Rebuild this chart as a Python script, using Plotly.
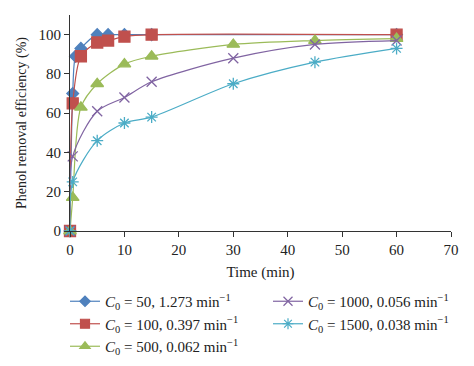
import plotly.graph_objects as go

# Data
t_50 = [0, 0.5, 1, 2, 5, 7, 10, 15, 60]
e_50 = [0, 70, 89, 93, 100, 100, 100, 100, 100]
t_100 = [0, 0.5, 2, 5, 7, 10, 15, 60]
e_100 = [0, 65, 89, 96, 97, 99, 100, 100]
t_500 = [0, 0.5, 2, 5, 10, 15, 30, 45, 60]
e_500 = [0, 17, 63, 75, 85, 89, 95, 97, 98]
t_1000 = [0, 0.5, 5, 10, 15, 30, 45, 60]
e_1000 = [0, 38, 61, 68, 76, 88, 95, 97]
t_1500 = [0, 0.5, 5, 10, 15, 30, 45, 60]
e_1500 = [0, 25, 46, 55, 58, 75, 86, 93]

labels = [
    "<i>C</i><sub>0</sub> = 50, 1.273 min<sup>−1</sup>",
    "<i>C</i><sub>0</sub> = 100, 0.397 min<sup>−1</sup>",
    "<i>C</i><sub>0</sub> = 500, 0.062 min<sup>−1</sup>",
    "<i>C</i><sub>0</sub> = 1000, 0.056 min<sup>−1</sup>",
    "<i>C</i><sub>0</sub> = 1500, 0.038 min<sup>−1</sup>",
]
x_title = "Time (min)"
y_title = "Phenol removal efficiency (%)"
colors = ["#4F81BD", "#C0504D", "#9BBB59", "#8064A2", "#4BACC6"]
symbols = ["diamond", "square", "triangle-up", "x-thin-open", "asterisk-open"]
sizes = [9, 11, 11, 10, 10]
legend_sizes = [8, 9, 9, 9, 9]
legends = ["legend", "legend", "legend", "legend2", "legend2"]

series = [(t_50, e_50), (t_100, e_100), (t_500, e_500), (t_1000, e_1000), (t_1500, e_1500)]

fig = go.Figure()
for i, (tx, ey) in enumerate(series):
    fig.add_trace(go.Scatter(
        x=tx, y=ey, mode="lines+markers", name=labels[i], showlegend=False,
        line=dict(color=colors[i], width=1.2, shape="spline", smoothing=0.8),
        marker=dict(symbol=symbols[i], size=sizes[i], color=colors[i],
                    line=dict(color=colors[i], width=1.3)),
        cliponaxis=False,
    ))
# legend entries (smaller legend markers, as in the reference)
for i in range(len(series)):
    fig.add_trace(go.Scatter(
        x=[None], y=[None], mode="lines+markers", name=labels[i], legend=legends[i],
        line=dict(color=colors[i], width=1.2),
        marker=dict(symbol=symbols[i], size=legend_sizes[i], color=colors[i],
                    line=dict(color=colors[i], width=1.2)),
    ))

W, H = 466, 358  # page body adds an 8px margin
font = dict(family="Liberation Serif, Times New Roman, serif", size=15, color="#222")

leg_common = dict(xref="container", yref="container", xanchor="left", yanchor="top",
                  orientation="v", font=dict(size=15), tracegroupgap=0, itemwidth=30,
                  bgcolor="rgba(0,0,0,0)")

fig.update_layout(
    width=W, height=H,
    margin=dict(l=62, r=23, t=7, b=135, autoexpand=False),
    paper_bgcolor="white", plot_bgcolor="white",
    font=font,
    xaxis=dict(range=[0, 70], dtick=10, showline=True, linecolor="#333", linewidth=1.2,
               ticks="outside", ticklen=5, tickcolor="#333", showgrid=False, zeroline=False,
               title=dict(text=x_title, standoff=9, font=dict(size=15))),
    yaxis=dict(range=[0, 110], tickvals=[0, 20, 40, 60, 80, 100], showline=True, linecolor="#333",
               linewidth=1.2, ticks="outside", ticklen=5, tickcolor="#333", showgrid=False,
               zeroline=False),
    legend=dict(x=57 / W, y=1 - 277 / H, **leg_common),
    legend2=dict(x=260 / W, y=1 - 277 / H, **leg_common),
    showlegend=True,
    annotations=[dict(text=y_title, textangle=-90, xref="paper", yref="paper",
                      x=0, y=0.5, xshift=-48, showarrow=False,
                      font=dict(size=14), xanchor="center", yanchor="middle")],
)

fig.write_html("out.html")
